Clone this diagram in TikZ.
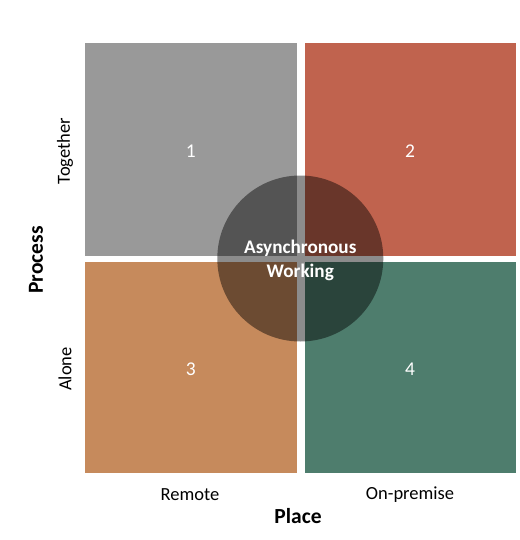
\documentclass[tikz,border=0pt]{standalone}
\usepackage{fontspec}
\setmainfont{Carlito}
\definecolor{qgray}{HTML}{999999}
\definecolor{qred}{HTML}{C0634E}
\definecolor{qtan}{HTML}{C68A5C}
\definecolor{qgreen}{HTML}{4E7D6D}
\begin{document}
\begin{tikzpicture}[x=1pt,y=-1pt,
  quad/.style={draw=none,inner sep=0pt,minimum width=211.3pt,minimum height=212.5pt,anchor=north west},
  num/.style={text=white,font=\fontsize{19.5}{24}\selectfont},
  axis/.style={text=black,font=\fontsize{18.5}{22}\selectfont},
  title/.style={text=black,font=\bfseries\fontsize{21.5}{26}\selectfont}]
\useasboundingbox[fill=white] (0,0) rectangle (519,540);
\node[quad,fill=qgray] (q1) at (85,43) {};
\node[quad,fill=qred] (q2) at (304.3,43) {};
\node[quad,fill=qtan,minimum height=211.5pt] (q3) at (85,261.5) {};
\node[quad,fill=qgreen,minimum height=211.5pt] (q4) at (304.3,261.5) {};
\node[num] (n1) at ([yshift=-2pt]q1.center) {1};
\node[num] (n2) at ([yshift=-2pt]q2.center) {2};
\node[num] (n3) at ([yshift=-2pt]q3.center) {3};
\node[num] (n4) at ([yshift=-2pt]q4.center) {4};
\node[circle,fill=black,fill opacity=0.45,minimum size=166pt,inner sep=0pt] (c) at (300.3,258.5) {};
\node[text=white,font=\bfseries\fontsize{19.2}{24}\selectfont,align=center] (aw) at ([yshift=-2pt]c.center) {Asynchronous\\Working};
\node[axis,rotate=90] (tog) at (65,151) {Together};
\node[axis,rotate=90] (alo) at (65,369) {Alone};
\node[axis] (rem) at (190,494.5) {Remote};
\node[axis] (onp) at (410,494.5) {On-premise};
\node[title] (pl) at (298,516) {Place};
\node[title,rotate=90] (pr) at (36,260) {Process};
\end{tikzpicture}
\end{document}
